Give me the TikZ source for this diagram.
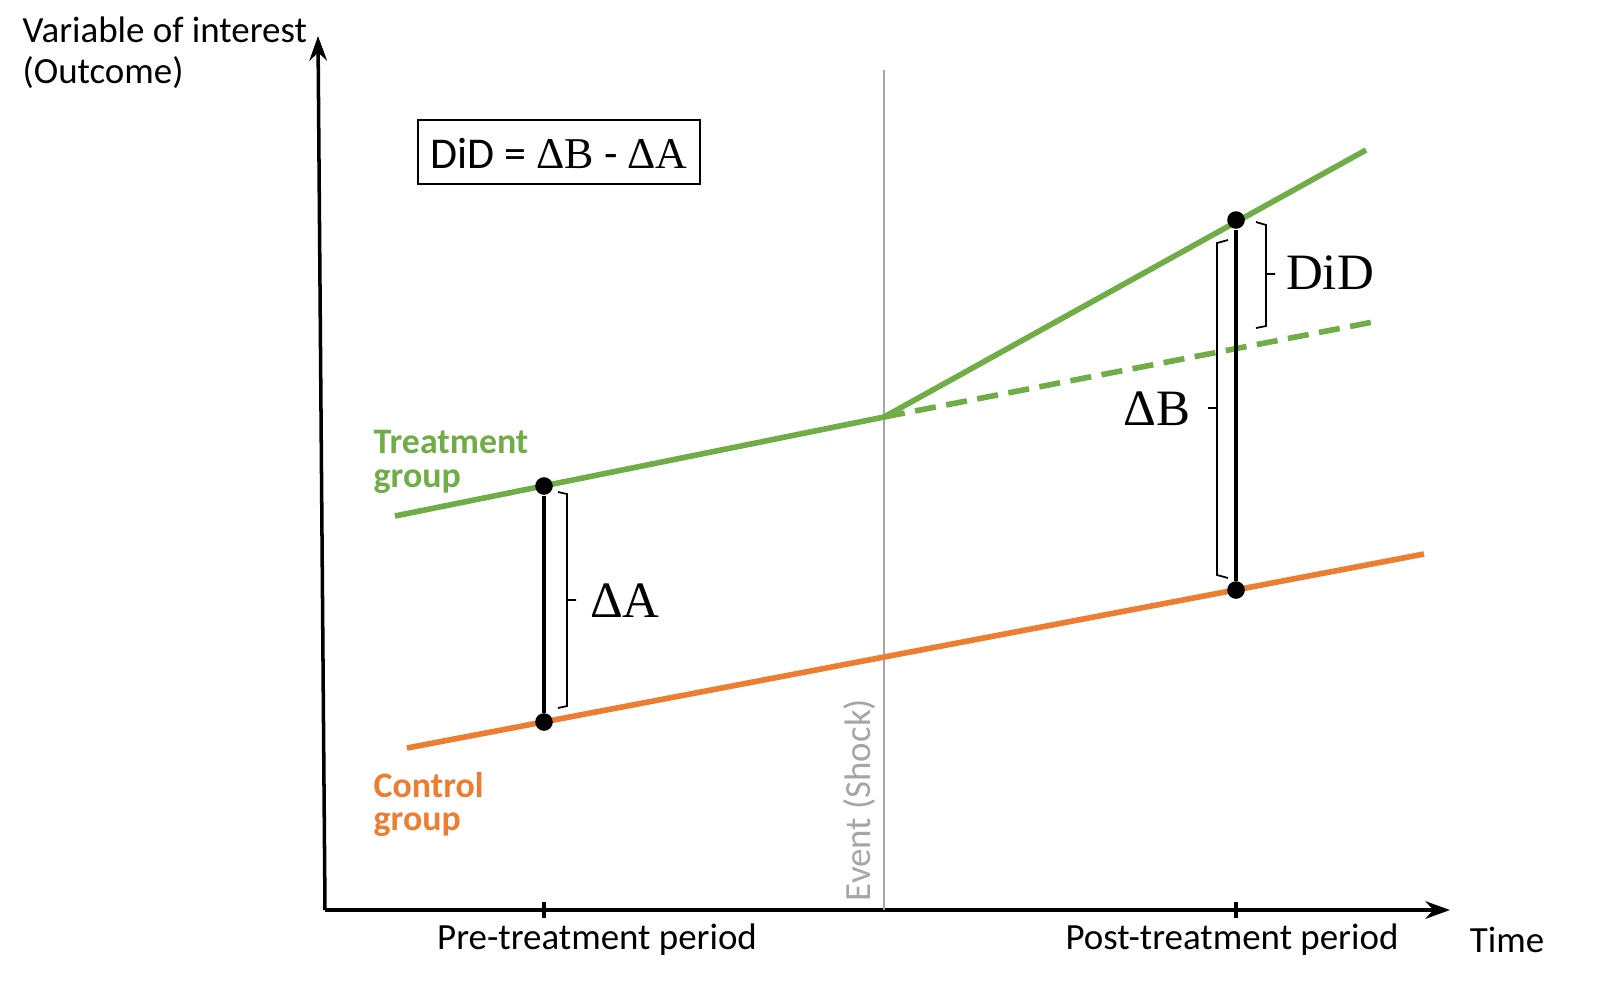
\documentclass[tikz,border=0pt]{standalone}
\usepackage{fontspec}
\setmainfont{Carlito}
\newfontfamily\serif{Liberation Serif}
\usetikzlibrary{arrows.meta}
\definecolor{tgreen}{HTML}{70AD47}
\definecolor{corange}{HTML}{ED7D31}
\definecolor{egray}{HTML}{A6A6A6}
\tikzset{
  axis/.style={line width=1pt,-{Stealth[length=7pt,width=5pt]}},
  dot/.style={circle,fill=black,inner sep=0pt,minimum size=5pt},
  lbl/.style={font=\fontsize{10.5pt}{13pt}\selectfont,anchor=west,inner sep=0pt},
  grp/.style={font=\fontsize{10.2pt}{12pt}\selectfont\bfseries,anchor=west,inner sep=0pt},
  dlt/.style={font=\serif\fontsize{14.5pt}{16pt}\selectfont,inner sep=0pt},
  brk/.style={line width=0.5pt}
}
\begin{document}
\begin{tikzpicture}[x=0.01cm,y=-0.01cm]
\useasboundingbox (0,0) rectangle (1600,993);
\coordinate (o) at (325,910);
\coordinate (ytop) at (318,36);
\coordinate (xend) at (1450,910);
\draw[axis] (o) -- (ytop);
\draw[axis] (o) -- (xend);
\draw[line width=1pt] (544,902) -- (544,918) (1236,902) -- (1236,918);
\node[lbl,anchor=center] (pre) at (597,940) {Pre-treatment period};
\node[lbl,anchor=center] (post) at (1232,940) {Post-treatment period};
\node[lbl,anchor=center] (time) at (1507,940) {Time};
\node[lbl] (y1) at (22,30) {Variable of interest};
\node[lbl] (y2) at (22,73) {(Outcome)};
\coordinate (e1) at (884,70);
\coordinate (e2) at (884,910);
\draw[egray,line width=0.8pt] (e1) -- (e2);
\node[lbl,anchor=center,rotate=90,text=egray] (ev) at (860,800) {Event (Shock)};
\draw[line width=0.8pt] (418,120) rectangle (700,184);
\node[inner sep=0pt] (box) at (559,153)
 {\fontsize{12.5pt}{15pt}\selectfont DiD = {\serif ΔB} - {\serif ΔA}};
\coordinate (g0) at (395,516);
\coordinate (gk) at (884,417);
\coordinate (g1) at (1366,150);
\coordinate (gd) at (1378,321);
\coordinate (c0) at (407,748);
\coordinate (c1) at (1424,554);
\draw[tgreen,line width=1.6pt] (g0) -- (gk) -- (g1);
\draw[tgreen,line width=1.6pt,dash pattern=on 6pt off 3pt] (gk) -- (gd);
\draw[corange,line width=1.6pt] (c0) -- (c1);
\node[dot] (a1) at (544,486) {};
\node[dot] (a2) at (544,722) {};
\node[dot] (b1) at (1236,220) {};
\node[dot] (b2) at (1236,590) {};
\draw[line width=1.1pt] (a1) -- (a2);
\draw[line width=1.1pt] (b1) -- (b2);
\draw[brk] (558,492) -- (567,494) -- (567,706) -- (558,708) (567,600) -- (576,600);
\draw[brk] (1228,240) -- (1217,243) -- (1217,575) -- (1228,578) (1217,408) -- (1208,408);
\draw[brk] (1256,222) -- (1266,225) -- (1266,326) -- (1256,328) (1266,274) -- (1275,274);
\node[dlt] (da) at (625,601) {ΔA};
\node[dlt] (db) at (1157,409) {ΔB};
\node[dlt] (dd) at (1330,273) {DiD};
\node[grp,text=tgreen] (t1) at (373,442) {Treatment};
\node[grp,text=tgreen] (t2) at (373,482) {group};
\node[grp,text=corange] (c1l) at (373,785) {Control};
\node[grp,text=corange] (c2l) at (373,825) {group};
\end{tikzpicture}
\end{document}
